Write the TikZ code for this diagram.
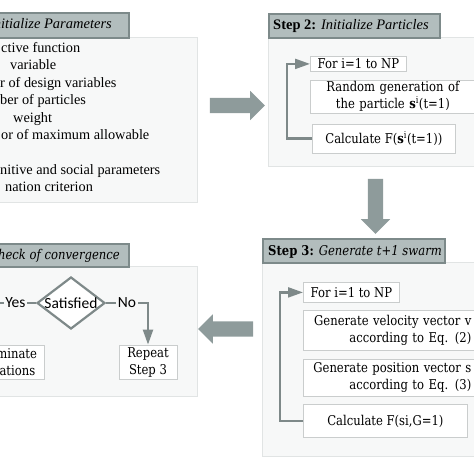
\documentclass[tikz,border=0pt]{standalone}
\usepackage{fontspec}
\setmainfont{Liberation Serif}
\newfontfamily\camfont[FakeStretch=0.86]{DejaVu Serif}
\newfontfamily\calfont{Carlito}
\usetikzlibrary{positioning, arrows.meta, calc, shapes.geometric, shapes.arrows}

\definecolor{hdrfill}{HTML}{B2BDBD}
\definecolor{hdrline}{HTML}{7D8A8A}
\definecolor{panelfill}{HTML}{F7F8F8}
\definecolor{panelline}{HTML}{E1E4E4}
\definecolor{bigfill}{HTML}{8E9B9B}
\definecolor{boxline}{HTML}{CACDCD}
\definecolor{flowgray}{HTML}{7E8989}

\begin{document}
\begin{tikzpicture}[
  x=1pt, y=-1pt,
  font=\fontsize{14.3}{17.4}\selectfont,
  panel/.style={draw=panelline, fill=panelfill, line width=1.2pt, inner sep=0pt, anchor=north west},
  hdr/.style={draw=hdrline, fill=hdrfill, line width=1.8pt, inner sep=0pt, anchor=north west},
  tms/.style={font=\fontsize{14.5}{17}\selectfont, inner sep=0pt},
  cam/.style={font=\camfont\fontsize{13.5}{17}\selectfont},
  box/.style={cam, draw=boxline, fill=white, line width=0.8pt, inner sep=0pt, align=center},
  lbl/.style={font=\calfont\fontsize{15.5}{17}\selectfont, fill=panelfill, inner sep=1.5pt},
  flow/.style={draw=flowgray, line width=2.2pt},
  tip/.style={-{Triangle[length=15pt, width=10pt]}},
  bigarr/.style={single arrow, fill=bigfill, minimum height=55pt, inner xsep=0pt,
    inner ysep=7.5pt, single arrow head extend=7pt}
]
\useasboundingbox (0,0) rectangle (474,474);
\clip (0,0) rectangle (474,474);

% step 1: parameters
\node[panel, minimum width=257pt, minimum height=165pt] (p1) at (-60,37) {};
\node[hdr, minimum width=188pt, minimum height=25pt] (h1) at (-60,12) {};
\node[tms, anchor=base east] (h1t) at (112,28) {\textbf{Step 1:} \textit{Initialize Parameters}};
\foreach \i/\x/\t in {1/1/ctive function, 2/10/variable, 3/0/r of design variables,
    4/0/ber of particles, 5/13/weight, 6/1/or of maximum allowable,
    8/0/nitive and social parameters, 9/5/nation criterion}
  \node[anchor=base west, inner sep=0pt] (par\i) at (\x,{52.5+17.4*(\i-1)}) {\t};

% step 2: particles
\node[panel, minimum width=250pt, minimum height=129pt] (p2) at (268,37) {};
\node[hdr, minimum width=171pt, minimum height=24pt] (h2) at (268,13) {};
\node[tms, anchor=base west] (h2t) at (273,29) {\textbf{Step 2:} \textit{Initialize Particles}};
\node[box, minimum width=96pt, minimum height=15pt, anchor=north west] (for2) at (310,56) {For i=1 to NP};
\node[box, text width=157pt, inner xsep=4pt, minimum height=33pt,
  below=8pt of for2.south west, anchor=north west] (rand2)
  {Random generation of\\the particle \textbf{s}\textsuperscript{i}(t=1)};
\node[box, minimum width=143pt, minimum height=29pt,
  below=10pt of rand2.south west, xshift=2pt, anchor=north west] (calc2)
  {Calculate F(\textbf{s}\textsuperscript{i}(t=1))};
\draw[flow, tip] (calc2.west) -- ++(-25,0) |- (for2.west);

% step 3: new swarm
\node[panel, minimum width=256pt, minimum height=194pt] (p3) at (262,262) {};
\node[hdr, minimum width=182pt, minimum height=24pt] (h3) at (262,238) {};
\node[cam, inner sep=0pt, anchor=base west] (h3t) at (268,255) {\textbf{Step 3:} \textit{Generate t+1 swarm}};
\node[box, minimum width=96pt, minimum height=20pt, anchor=north west] (for3) at (303,282) {For i=1 to NP};
\node[box, text width=164pt, inner xsep=4pt, align=right, minimum height=40pt,
  below=7pt of for3.south west, anchor=north west] (vel3)
  {Generate velocity vector v\\according to Eq. (2)};
\node[box, text width=164pt, inner xsep=4pt, align=right, minimum height=37pt,
  below=8pt of vel3.south west, anchor=north west] (pos3)
  {Generate position vector s\\according to Eq. (3)};
\node[box, minimum width=164pt, minimum height=33pt,
  below=8pt of pos3.south west, anchor=north west] (calc3) {Calculate F(si,G=1)};
\draw[flow, tip] (calc3.west) -- ++(-23,0) |- (for3.west);

% step 4: convergence
\node[panel, minimum width=257pt, minimum height=130pt] (p4) at (-60,266) {};
\node[hdr, minimum width=188pt, minimum height=23pt] (h4) at (-60,243) {};
\node[cam, inner sep=0pt, anchor=base east] (h4t) at (120,259) {\textbf{Step 4:} \textit{Check of convergence}};
\node[diamond, aspect=1.3, draw=flowgray, line width=2.2pt, fill=white, minimum width=68pt,
  minimum height=52pt, inner sep=0pt, font=\calfont\fontsize{15.5}{17}\selectfont] (sat) at (71,303) {Satisfied};
\node[box, minimum width=58pt, minimum height=34pt] (rep) at (148,362) {Repeat\\Step 3};
\node[box, minimum width=74pt, minimum height=34pt] (term) at (7,362) {Terminate\\iterations};
\coordinate (yesend) at (-40,303);
\draw[flow] (sat.west) -- node[lbl, pos=0.27] {Yes} (yesend);
\draw[flow, tip] (sat.east) -- node[lbl] {No} (sat.east -| rep.north) -- (rep.north);

% arrows between steps
\node[bigarr] (a12) at (233.5,105.5) {};
\node[bigarr, rotate=-90] (a23) at (375.5,202.5) {};
\node[bigarr, rotate=180] (a34) at (229.5,329) {};
\end{tikzpicture}
\end{document}
